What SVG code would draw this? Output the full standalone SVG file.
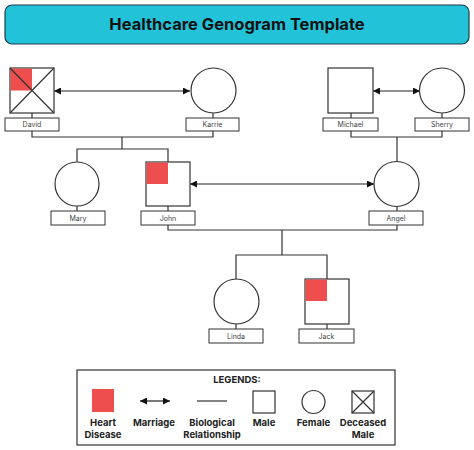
<svg xmlns="http://www.w3.org/2000/svg" width="474" height="450" viewBox="0 0 474 450">
<defs>
<marker id="ah" viewBox="0 0 10 10" refX="10" refY="5" markerWidth="7" markerHeight="7" orient="auto-start-reverse" markerUnits="userSpaceOnUse">
<path d="M0,0 L10,5 L0,10 z" fill="#111"/>
</marker>
<style>
.sh{fill:#fff;stroke:#333;stroke-width:1.2}
.hd{fill:#ee4e4e;stroke:none}
.ln{fill:none;stroke:#333;stroke-width:1.2}
.mar{fill:none;stroke:#222;stroke-width:1.2;marker-start:url(#ah);marker-end:url(#ah)}
.lb{fill:#fff;stroke:#333;stroke-width:1}
.lt{font-family:Inter,"Liberation Sans",sans-serif;font-size:7px;fill:#444;text-anchor:middle}
.gt{font-family:Inter,"Liberation Sans",sans-serif;font-size:9.5px;font-weight:bold;fill:#222;text-anchor:middle}
</style>
</defs>
<rect width="474" height="450" fill="#fff"/>
<g id="title">
<rect x="5" y="5" width="464" height="39" rx="7" fill="#22c3d9" stroke="#1d3b4a" stroke-width="1.2"/>
<text x="237" y="29.8" font-family="Inter,'Liberation Sans',sans-serif" font-size="16.5" font-weight="bold" fill="#111" text-anchor="middle">Healthcare Genogram Template</text>
</g>
<g id="connectors">
<line class="mar" x1="54" y1="91" x2="190" y2="91"/>
<line class="mar" x1="373" y1="91" x2="420" y2="91"/>
<line class="mar" x1="190" y1="184" x2="374" y2="184"/>
<path class="ln" d="M32,113 V118 M32,131 V137 H213 V131 M213,113 V118"/>
<path class="ln" d="M122,137 V149 M77,162 V149 H168 V162"/>
<path class="ln" d="M351,113 V118 M351,131 V137 H442 V131 M442,113 V118"/>
<path class="ln" d="M397,137 V162"/>
<path class="ln" d="M168,206 V211 M168,225 V230 H397 V225 M397,206 V211 M77,206 V211"/>
<path class="ln" d="M282,230 V255 M236,279 V255 H327 V279"/>
<path class="ln" d="M236,324 V329 M327,324 V329"/>
</g>
<g id="david">
<rect class="sh" x="10" y="68" width="44" height="45"/>
<rect class="hd" x="10.6" y="68.6" width="21.4" height="21.9"/>
<path class="ln" d="M10,68 L54,113 M54,68 L10,113"/>
<rect class="lb" x="5" y="118" width="54" height="13"/>
<text class="lt" x="32" y="127.3">David</text>
</g>
<g id="karrie">
<circle class="sh" cx="213.5" cy="90.5" r="22.5"/>
<rect class="lb" x="186" y="118" width="53" height="13"/>
<text class="lt" x="212.5" y="127.3">Karrie</text>
</g>
<g id="michael">
<rect class="sh" x="328" y="68" width="45" height="45"/>
<rect class="lb" x="323" y="118" width="55" height="13"/>
<text class="lt" x="350.5" y="127.3">Michael</text>
</g>
<g id="sherry">
<circle class="sh" cx="442" cy="90.5" r="22.5"/>
<rect class="lb" x="415" y="118" width="54" height="13"/>
<text class="lt" x="442" y="127.3">Sherry</text>
</g>
<g id="mary">
<circle class="sh" cx="77" cy="184" r="22"/>
<rect class="lb" x="51" y="211" width="54" height="14"/>
<text class="lt" x="78" y="220.5">Mary</text>
</g>
<g id="john">
<rect class="sh" x="146" y="162" width="44" height="44"/>
<rect class="hd" x="146.6" y="162.6" width="21.4" height="21.4"/>
<rect class="lb" x="141" y="211" width="54" height="14"/>
<text class="lt" x="168" y="220.5">John</text>
</g>
<g id="angel">
<circle class="sh" cx="396.5" cy="184" r="22.5"/>
<rect class="lb" x="369" y="211" width="54" height="14"/>
<text class="lt" x="396" y="220.5">Angel</text>
</g>
<g id="linda">
<circle class="sh" cx="236.5" cy="301.5" r="22.5"/>
<rect class="lb" x="209" y="329" width="54" height="14"/>
<text class="lt" x="236" y="338.5">Linda</text>
</g>
<g id="jack">
<rect class="sh" x="305" y="279" width="44" height="45"/>
<rect class="hd" x="305.6" y="279.6" width="21.4" height="21.4"/>
<rect class="lb" x="299" y="329" width="55" height="14"/>
<text class="lt" x="326.5" y="338.5">Jack</text>
</g>
<g id="legend">
<rect x="77" y="370" width="318" height="75" fill="#fff" stroke="#333" stroke-width="1.2"/>
<text class="gt" x="237" y="383">LEGENDS:</text>
<rect class="hd" x="92" y="389" width="22" height="23"/>
<text class="gt" x="103" y="426">Heart</text>
<text class="gt" x="103" y="437.5">Disease</text>
<line class="mar" x1="140" y1="401" x2="170" y2="401"/>
<text class="gt" x="154" y="426">Marriage</text>
<line class="ln" x1="197" y1="401" x2="227" y2="401"/>
<text class="gt" x="212" y="426">Biological</text>
<text class="gt" x="212" y="437.5">Relationship</text>
<rect class="sh" x="253" y="391" width="22" height="22"/>
<text class="gt" x="264" y="426">Male</text>
<circle class="sh" cx="313.5" cy="402" r="11.5"/>
<text class="gt" x="313.5" y="426">Female</text>
<rect class="sh" x="352" y="391" width="22" height="22"/>
<path class="ln" d="M352,391 L374,413 M374,391 L352,413"/>
<text class="gt" x="363" y="426">Deceased</text>
<text class="gt" x="363" y="437.5">Male</text>
</g>
</svg>
